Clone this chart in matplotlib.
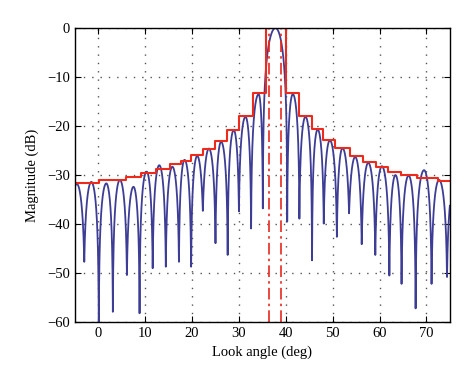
import numpy as np
import matplotlib
matplotlib.use("Agg")
import matplotlib.pyplot as plt

# ---- data ----
# nulls of the array pattern (angle deg, level dB)
null_angles = [-6.1, -3.0, 0.1, 3.1, 6.1, 8.8, 11.6, 14.4, 17.2, 19.8, 22.3, 25.0,
               27.6, 30.0, 32.6, 35.1, 40.3, 42.9, 45.6, 48.1, 50.9, 53.5, 56.2,
               59.1, 62.1, 64.7, 67.7, 71.1, 74.4, 77.5]
null_levels = [-45.0, -47.7, -62.0, -57.9, -50.4, -58.2, -49.0, -48.7, -47.7, -48.7,
               -37.3, -43.9, -46.3, -37.4, -40.9, -36.8, -39.5, -38.9, -47.4, -39.9,
               -42.6, -37.8, -44.1, -46.3, -50.5, -52.2, -57.2, -52.2, -50.8, -45.0]
# lobe peaks (angle deg, level dB)
peak_angles = [-4.6, -1.5, 1.7, 4.6, 7.5, 10.3, 13.0, 15.8, 18.4, 21.1, 23.6, 26.2,
               28.9, 31.4, 34.2, 37.8, 41.5, 44.2, 46.8, 49.4, 52.1, 54.8, 57.6,
               60.5, 63.4, 66.2, 69.5, 72.7, 76.0]
peak_levels = [-31.8, -31.4, -31.7, -31.0, -32.4, -29.3, -28.0, -28.3, -26.9, -26.1,
               -24.6, -23.2, -20.8, -18.1, -13.5, 0.0, -13.5, -18.1, -20.7, -22.9,
               -24.5, -26.3, -27.5, -28.2, -30.0, -30.1, -29.0, -31.0, -32.0]

# sidelobe mask (step envelope)
mask_edges = [-5, 0.2, 6.0, 9.2, 12.3, 15.3, 17.6, 19.8, 22.3, 24.8, 27.5, 30.0,
              33.1, 35.7, 40.0, 42.8, 45.5, 48.0, 50.6, 53.6, 56.5, 59.3, 61.8,
              64.5, 68.1, 72.4, 75]
mask_levels = [-31.7, -31.0, -30.3, -29.5, -28.7, -27.8, -27.1, -26.0, -24.7, -23.0,
               -20.8, -17.9, -13.2, 0.0, -13.2, -17.9, -20.7, -22.9, -24.4, -26.1,
               -27.4, -28.4, -29.3, -29.9, -30.7, -31.3]

# beam edges (dash-dot lines)
beam_edges = [36.5, 39.0]

xticks = [0, 10, 20, 30, 40, 50, 60, 70]
yticks = [0, -10, -20, -30, -40, -50, -60]

# ---- build the pattern curve lobe by lobe from the read peaks/nulls ----
xs, ys = [], []
for i in range(len(peak_angles)):
    a, b = null_angles[i], null_angles[i + 1]
    p, L = peak_angles[i], peak_levels[i]
    fa = 10 ** (null_levels[i] / 20)
    fb = 10 ** (null_levels[i + 1] / 20)
    pk = 10 ** (L / 20)
    x1 = np.linspace(a, p, 80)
    s1 = np.sin(np.pi / 2 * (x1 - a) / (p - a))
    y1 = 20 * np.log10(pk * s1 + fa * (1 - s1))
    x2 = np.linspace(p, b, 80)[1:]
    s2 = np.sin(np.pi / 2 * (b - x2) / (b - p))
    y2 = 20 * np.log10(pk * s2 + fb * (1 - s2))
    xs.extend(x1); ys.extend(y1); xs.extend(x2); ys.extend(y2)

mx = []
my = []
for i, lv in enumerate(mask_levels):
    mx += [mask_edges[i], mask_edges[i + 1]]
    my += [lv, lv]

plt.rcParams['font.family'] = ['Liberation Serif', 'DejaVu Serif']
plt.rcParams['axes.unicode_minus'] = True

fig = plt.figure(figsize=(4.74, 3.89), dpi=100)
ax = fig.add_axes([0.158, 0.172, 0.791, 0.756])

ax.plot(xs, ys, color='#3d3d96', lw=1.3, zorder=3)
ax.plot(mx, my, color='#ee2a1c', lw=1.5, zorder=4)
for be in beam_edges:
    ax.axvline(be, color='#e8281c', lw=1.2, linestyle=(0, (7, 2.5, 1.5, 2.5)), zorder=4)

ax.set_xlim(-5, 75)
ax.set_ylim(-60, 0)
ax.set_xticks(xticks)
ax.set_yticks(yticks)
ax.set_yticklabels(['0', '\u221210', '\u221220', '\u221230', '\u221240', '\u221250', '\u221260'])
ax.grid(True, color='#555555', linestyle=(0, (1, 5)), linewidth=1.0)
ax.tick_params(direction='in', top=True, right=True, labelsize=10.5, length=4, width=0.8)
for sp in ax.spines.values():
    sp.set_linewidth(1.0)
    sp.set_zorder(5)
ax.set_xlabel('Look angle (deg)', fontsize=10.5, labelpad=4)
ax.set_ylabel('Magnitude (dB)', fontsize=10.5, labelpad=6)

fig.savefig('out.png', dpi=100)
